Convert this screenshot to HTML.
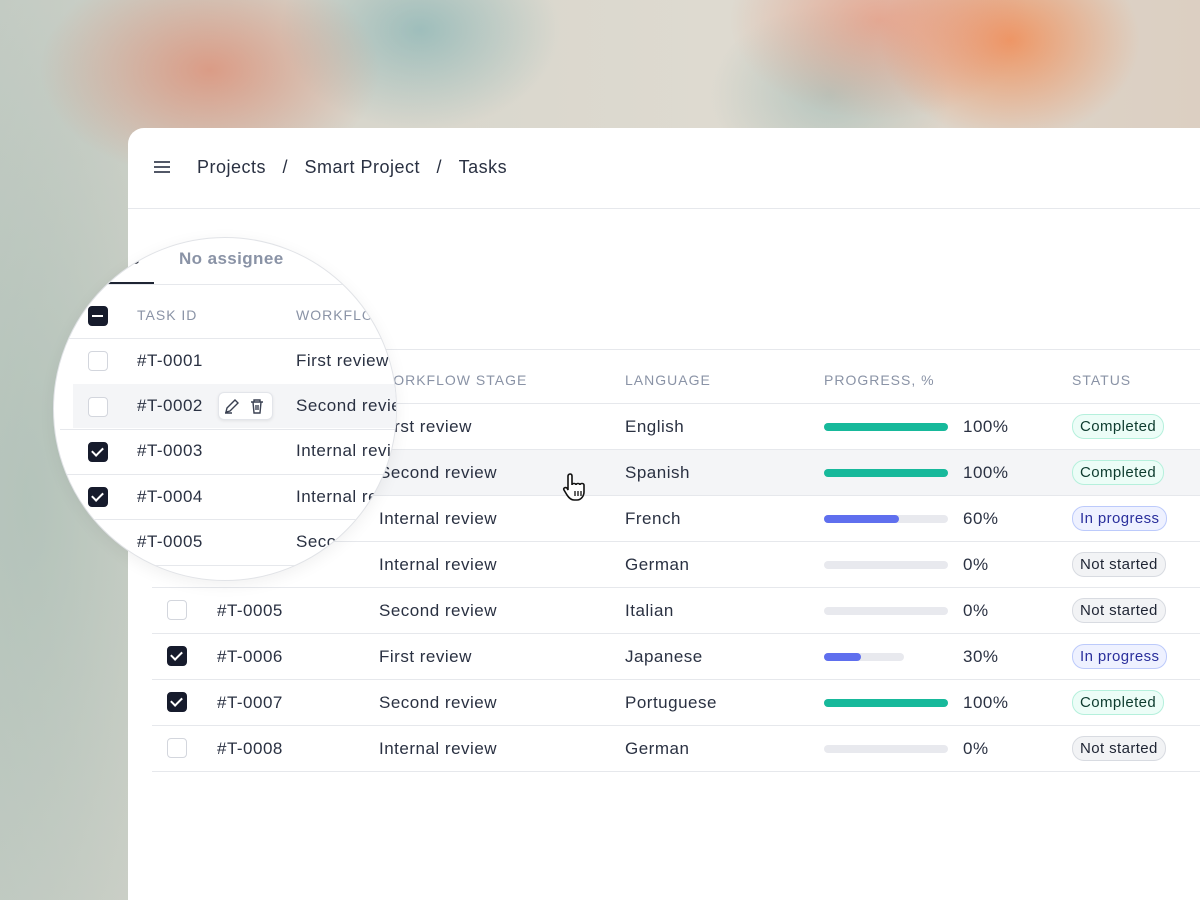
<!DOCTYPE html>
<html style="width:1200px;height:900px;overflow:hidden"><head><meta charset="utf-8"><style>
*{box-sizing:border-box;margin:0;padding:0}
body{width:1200px;height:900px;overflow:hidden;position:relative;font-family:"Liberation Sans",sans-serif;color:#1e2433;
background:
radial-gradient(ellipse 170px 110px at 210px 70px,rgba(226,120,90,.6),transparent),
radial-gradient(ellipse 140px 100px at 420px 30px,rgba(100,165,170,.5),transparent),
radial-gradient(ellipse 150px 100px at 880px 20px,rgba(235,130,100,.55),transparent),
radial-gradient(ellipse 130px 100px at 1010px 40px,rgba(245,125,60,.7),transparent),
radial-gradient(ellipse 120px 90px at 830px 95px,rgba(110,165,165,.35),transparent),
radial-gradient(ellipse 160px 500px at 30px 500px,rgba(160,185,175,.45),transparent),
linear-gradient(90deg,#c3cbc3 0%,#d8d6cc 30%,#dedad0 60%,#dccfc2 100%);}
.card{position:absolute;left:128px;top:128px;width:1072px;height:772px;background:#fff;border-radius:16px 0 0 0}
.abs{position:absolute;white-space:nowrap}
.hd{font-size:14px;letter-spacing:1px;color:#8a93a6}
.t{font-size:17px;color:#2a3142;letter-spacing:.5px}
.line{position:absolute;height:1px;background:#e6e8ec}
.cb{position:absolute;width:20px;height:20px;border:1.5px solid #d3d6dd;border-radius:4px;background:#fff}
.cb.on{background:#161b2c;border-color:#161b2c}
.cb.on:after{content:"";position:absolute;left:5px;top:2px;width:5px;height:9px;border:solid #fff;border-width:0 2px 2px 0;transform:rotate(45deg)}
.cb.m{background:#161b2c;border-color:#161b2c}
.cb.m:after{content:"";position:absolute;left:3px;top:8px;width:11px;height:2px;background:#fff}
.bar{position:absolute;height:8px;border-radius:4px;background:#e8e9ee}
.bar i{display:block;height:8px;border-radius:4px}
.badge{position:absolute;height:25px;line-height:23px;padding:0 7px;border-radius:12px;font-size:15px;border:1px solid;letter-spacing:.4px}
.c{background:#ecfdf7;border-color:#b5f0dc;color:#0d3b2e}
.p{background:#eef1ff;border-color:#bccafb;color:#2a2f9c}
.n{background:#f2f3f5;border-color:#d8dbe1;color:#1e2433}
.circle{position:absolute;left:53px;top:237px;width:344px;height:344px;border-radius:50%;overflow:hidden;background:#fff;border:1.5px solid #e1e3e7;box-shadow:0 4px 16px rgba(0,0,0,.06)}
</style></head><body>
<div class="card"></div>
<svg class="abs" style="left:153px;top:160px" width="18" height="14"><path d="M1 2h16M1 7h16M1 12h16" stroke="#3a4152" stroke-width="1.8"/></svg>
<div class="abs" style="left:197px;top:157px;font-size:18px;color:#2a3142;letter-spacing:.5px">Projects&nbsp;&nbsp;&nbsp;/&nbsp;&nbsp;&nbsp;Smart Project&nbsp;&nbsp;&nbsp;/&nbsp;&nbsp;&nbsp;Tasks</div>
<div class="line" style="left:128px;top:208px;width:1072px"></div>
<div class="line" style="left:152px;top:349px;width:1048px"></div>
<div class="abs hd" style="left:379px;top:372px">WORKFLOW STAGE</div>
<div class="abs hd" style="left:625px;top:372px">LANGUAGE</div>
<div class="abs hd" style="left:824px;top:372px">PROGRESS, %</div>
<div class="abs hd" style="left:1072px;top:372px">STATUS</div>
<div class="line" style="left:152px;top:403px;width:1048px"></div>
<div class="abs" style="left:152px;top:450px;width:1048px;height:45px;background:#f4f5f7"></div>

<div class="abs t" style="left:379px;top:417px">First review</div><div class="abs t" style="left:625px;top:417px">English</div>
<div class="bar" style="left:824px;top:423px;width:124px"><i style="width:124px;background:#17b99b"></i></div><div class="abs t" style="left:963px;top:417px">100%</div><div class="badge c" style="left:1072px;top:414px">Completed</div>
<div class="line" style="left:152px;top:449px;width:1048px"></div>
<div class="abs t" style="left:379px;top:463px">Second review</div><div class="abs t" style="left:625px;top:463px">Spanish</div>
<div class="bar" style="left:824px;top:469px;width:124px"><i style="width:124px;background:#17b99b"></i></div><div class="abs t" style="left:963px;top:463px">100%</div><div class="badge c" style="left:1072px;top:460px">Completed</div>
<div class="line" style="left:152px;top:495px;width:1048px"></div>
<div class="abs t" style="left:379px;top:509px">Internal review</div><div class="abs t" style="left:625px;top:509px">French</div>
<div class="bar" style="left:824px;top:515px;width:124px"><i style="width:75px;background:#5f6fee"></i></div><div class="abs t" style="left:963px;top:509px">60%</div><div class="badge p" style="left:1072px;top:506px">In progress</div>
<div class="line" style="left:152px;top:541px;width:1048px"></div>
<div class="abs t" style="left:379px;top:555px">Internal review</div><div class="abs t" style="left:625px;top:555px">German</div>
<div class="bar" style="left:824px;top:561px;width:124px"></div><div class="abs t" style="left:963px;top:555px">0%</div><div class="badge n" style="left:1072px;top:552px">Not started</div>
<div class="line" style="left:152px;top:587px;width:1048px"></div>
<div class="cb" style="left:167px;top:600px"></div><div class="abs t" style="left:217px;top:601px">#T-0005</div>
<div class="abs t" style="left:379px;top:601px">Second review</div><div class="abs t" style="left:625px;top:601px">Italian</div>
<div class="bar" style="left:824px;top:607px;width:124px"></div><div class="abs t" style="left:963px;top:601px">0%</div><div class="badge n" style="left:1072px;top:598px">Not started</div>
<div class="line" style="left:152px;top:633px;width:1048px"></div>
<div class="cb on" style="left:167px;top:646px"></div><div class="abs t" style="left:217px;top:647px">#T-0006</div>
<div class="abs t" style="left:379px;top:647px">First review</div><div class="abs t" style="left:625px;top:647px">Japanese</div>
<div class="bar" style="left:824px;top:653px;width:80px"><i style="width:37px;background:#5f6fee"></i></div><div class="abs t" style="left:963px;top:647px">30%</div><div class="badge p" style="left:1072px;top:644px">In progress</div>
<div class="line" style="left:152px;top:679px;width:1048px"></div>
<div class="cb on" style="left:167px;top:692px"></div><div class="abs t" style="left:217px;top:693px">#T-0007</div>
<div class="abs t" style="left:379px;top:693px">Second review</div><div class="abs t" style="left:625px;top:693px">Portuguese</div>
<div class="bar" style="left:824px;top:699px;width:124px"><i style="width:124px;background:#17b99b"></i></div><div class="abs t" style="left:963px;top:693px">100%</div><div class="badge c" style="left:1072px;top:690px">Completed</div>
<div class="line" style="left:152px;top:725px;width:1048px"></div>
<div class="cb" style="left:167px;top:738px"></div><div class="abs t" style="left:217px;top:739px">#T-0008</div>
<div class="abs t" style="left:379px;top:739px">Internal review</div><div class="abs t" style="left:625px;top:739px">German</div>
<div class="bar" style="left:824px;top:745px;width:124px"></div><div class="abs t" style="left:963px;top:739px">0%</div><div class="badge n" style="left:1072px;top:736px">Not started</div>
<div class="line" style="left:152px;top:771px;width:1048px"></div>

<svg class="abs" style="left:562px;top:472px" width="28" height="30" viewBox="0 0 28 30"><path d="M8 2c1.5 0 2 1 2 2v9c0-2 4-2 4 0c0-2 4-2 4 0c0-2 4-2 4 0v7c0 4-3 8-7 8h-3c-3 0-5-2-7-5l-3-5c-1-2 1-3 3-2l1 2V4c0-1 1-2 2-2z" fill="#fff" stroke="#111" stroke-width="1.6"/><path d="M13 19v5M16 19v5M19 19v5" stroke="#111" stroke-width="1.3"/></svg>

<div class="circle">
 <div style="position:absolute;left:-54px;top:-238px;width:1200px;height:900px">
  <div class="abs" style="left:130px;top:249px;font-size:17px;font-weight:bold;color:#1e2433">s</div>
  <div class="abs" style="left:179px;top:249px;font-size:17px;font-weight:bold;color:#8a93a6;letter-spacing:.4px">No assignee</div>
  <div class="line" style="left:60px;top:284px;width:340px"></div>
  <div class="abs" style="left:60px;top:282px;width:94px;height:2px;background:#1e2433"></div>
  <div class="cb m" style="left:88px;top:306px"></div>
  <div class="abs hd" style="left:137px;top:307px">TASK ID</div>
  <div class="abs hd" style="left:296px;top:307px">WORKFLOW</div>
  <div class="line" style="left:60px;top:338px;width:340px"></div>
  <div class="abs" style="left:73px;top:384px;width:330px;height:44px;background:#f4f5f7"></div>
  <div class="cb" style="left:88px;top:351px"></div><div class="abs t" style="left:137px;top:351px">#T-0001</div><div class="abs t" style="left:296px;top:351px">First review</div>
  <div class="cb" style="left:88px;top:397px"></div><div class="abs t" style="left:137px;top:396px">#T-0002</div><div class="abs t" style="left:296px;top:396px">Second review</div>
  <div class="abs" style="left:218px;top:392px;width:55px;height:28px;background:#fff;border:1px solid #e3e5ea;border-radius:6px;box-shadow:0 1px 3px rgba(0,0,0,.08)"></div>
  <svg class="abs" style="left:224px;top:398px" width="44" height="16"><path d="M2 14l1-4 8-8 3 3-8 8zM1 15h7" stroke="#3a4152" stroke-width="1.4" fill="none"/><path d="M27 4h12M30 4V2h6v2M29 4l1 11h6l1-11M32 7v5M34 7v5" stroke="#3a4152" stroke-width="1.4" fill="none"/></svg>
  <div class="line" style="left:60px;top:429px;width:340px"></div>
  <div class="cb on" style="left:88px;top:442px"></div><div class="abs t" style="left:137px;top:441px">#T-0003</div><div class="abs t" style="left:296px;top:441px">Internal review</div>
  <div class="line" style="left:60px;top:474px;width:340px"></div>
  <div class="cb on" style="left:88px;top:487px"></div><div class="abs t" style="left:137px;top:487px">#T-0004</div><div class="abs t" style="left:296px;top:487px">Internal review</div>
  <div class="line" style="left:60px;top:519px;width:340px"></div>
  <div class="abs t" style="left:137px;top:532px">#T-0005</div><div class="abs t" style="left:296px;top:532px">Second review</div>
  <div class="line" style="left:60px;top:565px;width:340px"></div>
 </div>
</div>
</body></html>
